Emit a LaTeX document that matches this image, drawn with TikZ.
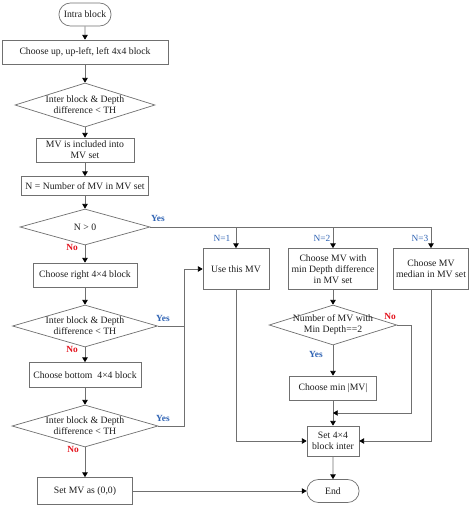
\documentclass[tikz,border=0pt]{standalone}
\usepackage{fontspec}
\setmainfont{Liberation Serif}
\usetikzlibrary{arrows.meta,shapes.geometric,shapes.misc}
\definecolor{rahmen}{HTML}{707070}
\definecolor{schrift}{HTML}{1E1E1E}
\definecolor{jablau}{HTML}{2F63B3}
\definecolor{neinrot}{HTML}{E3121C}
\tikzset{
  kasten/.style={draw=rahmen,fill=white,line width=0.6pt,text=schrift,align=center,inner sep=1pt},
  raute/.style={diamond,aspect=3.3,draw=rahmen,fill=white,line width=0.6pt,text=schrift,align=center,inner sep=0pt},
  term/.style={rounded rectangle,draw=rahmen,fill=white,line width=0.6pt,text=schrift},
  pfeil/.style={-{Triangle[length=4pt,width=4.6pt,color=black]},rahmen,line width=0.6pt},
  linie/.style={rahmen,line width=0.6pt},
  ja/.style={jablau,font=\fontsize{8}{9}\selectfont\bfseries},
  nein/.style={neinrot,font=\fontsize{8}{9}\selectfont\bfseries},
  zweig/.style={jablau,font=\fontsize{8}{9}\selectfont},
}

\begin{document}
\begin{tikzpicture}[x=0.03cm,y=-0.03cm,font=\fontsize{8.3}{9.5}\selectfont]
  \useasboundingbox (0,0) rectangle (474,506);
  % --- linke Spalte ---
  \node[term,minimum width=1.8cm,minimum height=0.69cm] (start) at (85,14.5) {Intra block};
  \node[kasten,minimum width=4.98cm,minimum height=0.72cm] (choose) at (85,52) {Choose up, up-left, left 4x4 block};
  \node[raute,minimum width=4.2cm,minimum height=1.32cm] (dia1) at (85,105) {Inter block \& Depth\\difference < TH};
  \node[kasten,minimum width=2.94cm,minimum height=0.72cm] (mv) at (85,150) {MV is included into\\MV set};
  \node[kasten,minimum width=3.81cm,minimum height=0.57cm] (num) at (85,186) {N = Number of MV in MV set};
  \node[raute,minimum width=3.9cm,minimum height=1.08cm] (dia0) at (85,227) {N > 0};
  \node[kasten,minimum width=3.12cm,minimum height=0.72cm] (right) at (85,275) {Choose right 4×4 block};
  \node[raute,minimum width=4.35cm,minimum height=1.26cm] (dia2) at (85,326) {Inter block \& Depth\\difference < TH};
  \node[kasten,minimum width=3.36cm,minimum height=0.75cm] (bottom) at (85,375) {Choose bottom\ \ 4×4 block};
  \node[raute,minimum width=4.38cm,minimum height=1.26cm] (dia3) at (85,426) {Inter block \& Depth\\difference < TH};
  \node[kasten,minimum width=2.85cm,minimum height=0.81cm] (setmv) at (85,491) {Set MV as (0,0)};
  % --- rechte Seite ---
  \node[kasten,minimum width=1.98cm,minimum height=1.23cm] (use) at (236,269) {Use this MV};
  \node[kasten,minimum width=2.67cm,minimum height=1.23cm] (mind) at (333,269) {Choose MV with\\min Depth difference\\in MV set};
  \node[kasten,minimum width=2.25cm,minimum height=1.23cm] (med) at (431,269) {Choose MV\\median in MV set};
  \node[raute,inner xsep=-8pt,minimum width=3.69cm,minimum height=1.2cm] (dia4) at (333,325) {Number of MV with\\Min Depth==2};
  \node[kasten,minimum width=2.61cm,minimum height=0.72cm] (minmv) at (333,388) {Choose min |MV|};
  \node[kasten,minimum width=1.56cm,minimum height=0.9cm] (set4) at (333,441) {Set 4×4\\block inter};
  \node[term,minimum width=1.8cm,minimum height=0.69cm] (end) at (333,491) {End};
  % --- Pfeile ---
  \draw[pfeil] (start) -- (choose);
  \draw[pfeil] (choose) -- (dia1);
  \draw[pfeil] (dia1) -- (mv);
  \draw[pfeil] (mv) -- (num);
  \draw[pfeil] (num) -- (dia0);
  \draw[pfeil] (dia0) -- (right);
  \draw[pfeil] (right) -- (dia2);
  \draw[pfeil] (dia2) -- (bottom);
  \draw[pfeil] (bottom) -- (dia3);
  \draw[pfeil] (dia3) -- (setmv);
  \draw[pfeil] (setmv) -- (end);
  \draw[pfeil] (dia0.east) -| (med.north);
  \draw[pfeil] (dia0.east -| use.north) -- (use.north);
  \draw[pfeil] (dia0.east -| mind.north) -- (mind.north);
  \coordinate (ry) at (184,326);
  \draw[pfeil] (dia2.east) -- (ry) |- (use.west);
  \draw[linie] (dia3.east) -| (ry);
  \draw[pfeil] (mind) -- (dia4);
  \draw[pfeil] (dia4) -- (minmv);
  \draw[pfeil] (minmv) -- (set4);
  \coordinate (rn) at (411,413);
  \draw[pfeil] (dia4.east) -| (rn) -- (rn -| minmv.south);
  \draw[pfeil] (use.south) |- (set4.west);
  \draw[pfeil] (med.south) |- (set4.east);
  \draw[pfeil] (set4) -- (end);
  % --- Beschriftung ---
  \node[ja] (y0) at (158,218) {Yes};
  \node[nein] (n0) at (72,247) {No};
  \node[zweig] (z1) at (222,238) {N=1};
  \node[zweig] (z2) at (322,238) {N=2};
  \node[zweig] (z3) at (420,238) {N=3};
  \node[ja] (y2) at (163,318) {Yes};
  \node[nein] (n2) at (72,349) {No};
  \node[ja] (y3) at (163,418) {Yes};
  \node[nein] (n3) at (73,449) {No};
  \node[nein] (n4) at (390,316) {No};
  \node[ja] (y4) at (316,354) {Yes};
\end{tikzpicture}
\end{document}
